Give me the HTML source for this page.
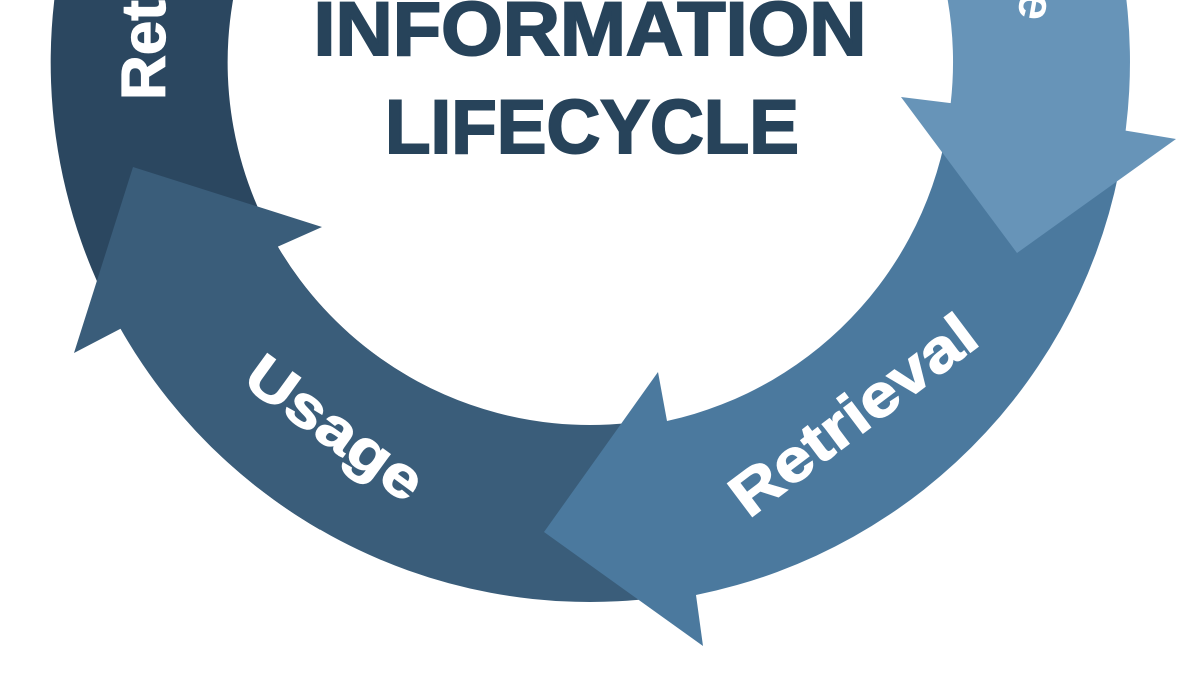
<!DOCTYPE html>
<html><head><meta charset="utf-8"><style>
html,body{margin:0;padding:0;background:#fff;}
svg{display:block;}
text{font-family:"Liberation Sans",Arial,sans-serif;font-weight:bold;}
</style></head><body>
<svg width="1200" height="678" viewBox="0 0 1200 678" xmlns="http://www.w3.org/2000/svg">
<!-- dark segment -->
<path fill="#2b4760" d="M 320 529.7 A540 540 0 1 1 899.7 -380.4 L 798.2 -235.4 A363 363 0 1 0 408.5 376.4 Z"/>
<!-- Usage -->
<path fill="#3a5d7a" d="M 702.3 590.2 A540 540 0 0 1 120.5 328.7 L 74 353 L 133 167 L 322 227 L 277.6 246.8 A363 363 0 0 0 665.5 417.1 Z"/>
<!-- Retrieval -->
<path fill="#4b799e" d="M 1125.6 130.6 A540 540 0 0 1 696 595 L 703 646 L 544 532 L 658 372 L 667 421 A363 363 0 0 0 950.7 103.1 Z"/>
<!-- Light -->
<path fill="#6794b8" d="M 860 -405.7 A540 540 0 0 1 1125.6 130.6 L 1176 139 L 1017 253 L 901 97 L 950.7 103.1 A363 363 0 0 0 771.5 -252.4 Z"/>

<text x="590" y="55" text-anchor="middle" font-size="76" fill="#27435a" stroke="#27435a" stroke-width="2" textLength="553" lengthAdjust="spacingAndGlyphs">INFORMATION</text>
<text x="592" y="153" text-anchor="middle" font-size="76" fill="#27435a" stroke="#27435a" stroke-width="2" textLength="414" lengthAdjust="spacingAndGlyphs">LIFECYCLE</text>

<text transform="translate(335,428) rotate(36)" x="0" y="0" text-anchor="middle" dominant-baseline="central" font-size="58" fill="#fff" stroke="#fff" stroke-width="1.2" textLength="205" lengthAdjust="spacingAndGlyphs">Usage</text>
<text transform="translate(853,415) rotate(-37)" x="0" y="0" text-anchor="middle" dominant-baseline="central" font-size="60" fill="#fff" stroke="#fff" stroke-width="1.2" textLength="292" lengthAdjust="spacingAndGlyphs">Retrieval</text>
<text transform="translate(165,100) rotate(-90)" x="0" y="0" text-anchor="start" font-size="62" fill="#fff" stroke="#fff" stroke-width="1.2">Retention</text>
<text transform="translate(1022,-10) rotate(100)" x="0" y="0" text-anchor="start" font-size="50" fill="#fff">e</text>
</svg>
</body></html>
